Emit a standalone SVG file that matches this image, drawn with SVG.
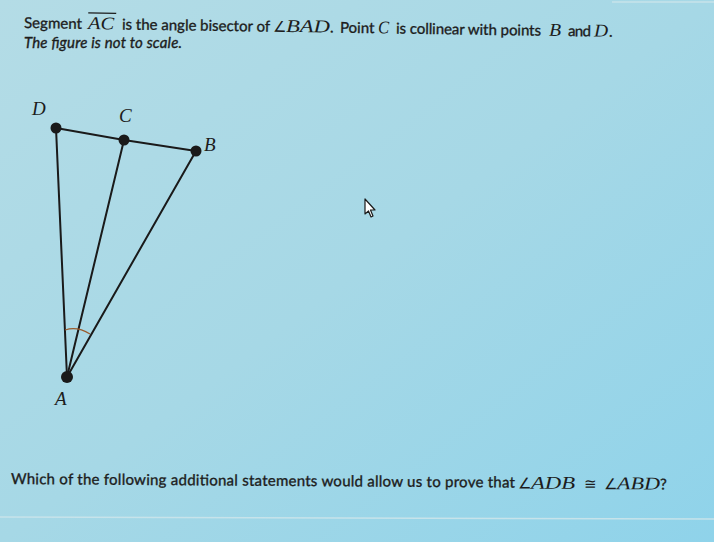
<svg xmlns="http://www.w3.org/2000/svg" width="714" height="542" viewBox="0 0 714 542">
<defs>
<linearGradient id="bg" x1="0" y1="0" x2="1" y2="1">
<stop offset="0" stop-color="#b4dce6"/>
<stop offset="0.5" stop-color="#a6d8e6"/>
<stop offset="1" stop-color="#8fd3ea"/>
</linearGradient>
<style>
.t{font-family:Lato,"Liberation Sans",sans-serif;font-size:15px;fill:#1c1c1c;stroke:#1c1c1c;stroke-width:0.35}
.it{font-style:italic}
.m{font-family:"Liberation Serif",serif;font-style:italic;font-size:18px;fill:#1c1c1c}
.ang{font-family:"DejaVu Sans",sans-serif;font-size:15px;fill:#1c1c1c}
.lbl{font-family:"Liberation Serif",serif;font-style:italic;font-size:19px;fill:#1c1c1c}
.seg{stroke:#1a1a1a;stroke-width:2;stroke-linecap:round}
.pt{fill:#1a1a1a}
</style>
</defs>
<rect width="714" height="542" fill="url(#bg)"/>
<line x1="0" y1="517" x2="714" y2="519" stroke="#c7e3ea" stroke-width="1.5"/>
<line x1="612" y1="2" x2="714" y2="2" stroke="#c7e3ea" stroke-width="1.5"/>

<g id="header">
<g transform="rotate(0.85 24 28)">
<text class="t" x="24" y="28" textLength="58">Segment</text>
<text class="m" x="88" y="28" textLength="26" lengthAdjust="spacingAndGlyphs">AC</text>
<line x1="88" y1="12" x2="116" y2="12" stroke="#1c1c1c" stroke-width="1.3"/>
<text class="t" x="122" y="28" textLength="148">is the angle bisector of</text>
<text class="ang" x="273" y="28">∠</text>
<text class="m" x="286" y="28" textLength="44" lengthAdjust="spacingAndGlyphs">BAD</text>
<text class="t" x="330" y="28">.</text>
<text class="t" x="340" y="28">Point</text>
<text class="m" x="378" y="28" textLength="11" lengthAdjust="spacingAndGlyphs">C</text>
<text class="t" x="396" y="28" textLength="145">is collinear with points</text>
<text class="m" x="549" y="28" textLength="12" lengthAdjust="spacingAndGlyphs">B</text>
<text class="t" x="568" y="28" textLength="23">and</text>
<text class="m" x="594" y="28" textLength="14" lengthAdjust="spacingAndGlyphs">D</text>
<text class="t" x="609" y="28">.</text>
</g>
<text class="t it" x="24" y="48" textLength="158">The figure is not to scale.</text>
</g>

<g id="connectors">
<line class="seg" x1="56" y1="128" x2="124" y2="140"/>
<line class="seg" x1="124" y1="140" x2="196" y2="151"/>
<line class="seg" x1="56" y1="128" x2="67" y2="377"/>
<line class="seg" x1="124" y1="140" x2="67" y2="377"/>
<line class="seg" x1="196" y1="151" x2="67" y2="377"/>
<path d="M65.2 330 Q77 326 90 334" fill="none" stroke="#9a5a2a" stroke-width="1.2"/>
</g>

<g id="node-D"><circle class="pt" cx="56" cy="128" r="5.5"/><text class="lbl" x="32" y="115">D</text></g>
<g id="node-C"><circle class="pt" cx="124" cy="140" r="5.5"/><text class="lbl" x="119" y="122">C</text></g>
<g id="node-B"><circle class="pt" cx="196" cy="151" r="5.5"/><text class="lbl" x="204" y="151">B</text></g>
<g id="node-A"><circle class="pt" cx="67" cy="377" r="6"/><text class="lbl" x="55" y="405">A</text></g>

<g id="cursor">
<path d="M365 199 L365 214 L368.5 211 L371 217 L373 216 L370.5 210 L375 210 Z" fill="#ffffff" stroke="#1a1a1a" stroke-width="1.2" stroke-linejoin="round"/>
</g>

<g id="question" transform="rotate(0.4 11 484)">
<text class="t" x="11" y="484" textLength="504">Which of the following additional statements would allow us to prove that</text>
<text class="ang" x="518" y="485">∠</text>
<text class="m" x="531" y="485" textLength="44" lengthAdjust="spacingAndGlyphs">ADB</text>
<text class="ang" x="584" y="485">≅</text>
<text class="ang" x="604" y="485">∠</text>
<text class="m" x="617" y="485" textLength="43" lengthAdjust="spacingAndGlyphs">ABD</text>
<text class="t" x="660" y="485">?</text>
</g>
</svg>
